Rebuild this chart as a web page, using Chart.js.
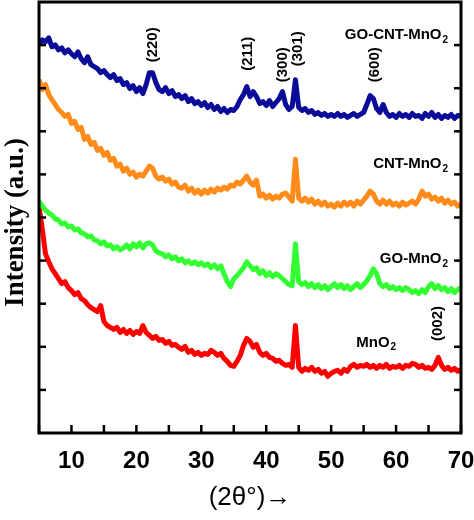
<!DOCTYPE html>
<html><head><meta charset="utf-8">
<script src="https://cdn.jsdelivr.net/npm/chart.js@4"></script>
<style>html,body{margin:0;background:#fff}#w{width:474px;height:520px}</style>
</head><body><div id="w"><canvas id="c"></canvas></div>
<script>
const twoTheta = [];
for (let i = 0; i <= 130; i++) twoTheta.push(5 + i * 0.5);
const goCntMnO2 = [390,395,393,397,388,390,385,387,382,385,381,378,383,376,372,378,370,368,366,362,364,360,357,360,354,356,350,352,346,349,343,347,341,350,362,362,352,345,343,347,341,344,338,340,336,339,333,336,331,333,329,332,327,330,325,328,323,326,322,325,324,328,335,340,348,338,343,338,331,333,329,334,328,332,336,343,330,325,328,355,327,324,326,322,324,320,322,319,321,318,320,318,321,318,320,317,319,321,318,320,322,330,339,336,326,322,330,322,318,320,317,321,318,320,317,321,318,319,316,321,318,322,317,320,316,319,317,320,316,319,318];
const cntMnO2 = [355,345,350,340,335,330,325,322,318,320,311,313,305,307,295,298,290,292,284,286,279,282,274,276,268,270,263,266,260,262,257,260,258,263,268,266,258,255,257,253,255,250,252,247,246,249,243,246,241,244,240,244,241,245,242,246,244,247,245,249,248,252,250,254,258,252,249,254,238,240,236,239,235,238,236,240,241,237,233,275,236,233,236,232,235,230,233,229,232,228,230,227,231,228,232,229,232,228,233,230,234,238,243,240,233,230,234,230,233,229,231,228,232,229,231,233,230,235,243,238,240,235,237,233,236,231,234,230,232,228,230];
const goMnO2 = [233,228,224,221,219,215,214,210,211,207,208,204,205,201,200,197,198,194,193,190,192,188,189,185,187,184,186,189,185,190,187,191,186,190,191,189,183,181,180,177,179,175,177,173,175,171,173,170,172,169,171,168,170,166,169,165,168,160,152,147,155,158,162,166,172,168,164,166,160,163,158,161,157,160,158,155,152,149,148,190,152,149,151,147,150,146,149,145,148,144,147,150,146,149,145,148,144,147,150,146,149,153,158,165,160,150,147,149,145,147,144,146,143,146,144,141,143,140,144,141,147,150,145,148,144,146,142,145,141,144,146];
const mnO2 = [228,205,180,172,165,160,155,150,152,146,143,139,141,135,133,129,126,124,122,128,112,108,106,104,106,101,104,100,103,99,102,100,108,101,98,95,97,93,94,90,92,88,89,86,84,87,81,83,79,81,78,80,79,83,81,78,80,75,72,68,67,72,78,88,95,92,86,89,81,78,80,76,75,72,73,70,68,69,66,108,66,62,65,63,66,62,64,60,62,57,60,62,63,60,64,62,67,69,66,68,67,69,66,68,65,68,66,69,65,67,66,68,65,68,67,70,69,66,68,65,66,64,68,76,68,64,66,63,65,62,64];
const xTickLabels = ['10','20','30','40','50','60','70'];
const peakLabels = ['(220)','(211)','(300)','(301)','(600)','(002)'];
const peakX = [22.5,37.2,42.6,44.8,56.7,66.5];
const peakY = [390,381,370,386,370,110];
const sampleNames = ['GO-CNT-MnO','CNT-MnO','GO-MnO','MnO'];
const sampleX = [67,67,67,59];
const sampleY = [400,270,175,91];

const pts = a => a.map((v,i)=>({x:twoTheta[i],y:v}));
const ds = (d,c)=>({data:pts(d),borderColor:c,borderWidth:5,pointRadius:0,tension:0,borderJoinStyle:'round'});

const deco = {
  id:'deco',
  afterDraw(ch){
    const c=ch.ctx, xs=ch.scales.x, ys=ch.scales.y, a=ch.chartArea;
    c.save();
    c.strokeStyle='#000'; c.lineWidth=3;
    c.strokeRect(a.left,a.top,a.right-a.left,a.bottom-a.top);
    c.lineWidth=2.5;
    for(let v=5;v<=70;v+=5){const px=xs.getPixelForValue(v);c.beginPath();c.moveTo(px,a.bottom);c.lineTo(px,a.bottom-8);c.stroke();}
    for(let k=1;k<10;k++){const py=ys.getPixelForValue(k*43.3);
      c.beginPath();c.moveTo(a.left,py);c.lineTo(a.left+7,py);c.stroke();
      c.beginPath();c.moveTo(a.right,py);c.lineTo(a.right-7,py);c.stroke();}
    c.fillStyle='#000';
    c.font='bold 15px Arial';c.textAlign='center';c.textBaseline='middle';
    peakLabels.forEach((t,i)=>{c.save();c.translate(xs.getPixelForValue(peakX[i]),ys.getPixelForValue(peakY[i]));c.rotate(-Math.PI/2);c.fillText(t,0,0);c.restore();});
    sampleNames.forEach((t,i)=>{
      const px=xs.getPixelForValue(sampleX[i]), py=ys.getPixelForValue(sampleY[i]);
      c.font='bold 15px Arial';c.textAlign='right';c.fillText(t,px,py);
      c.font='bold 10px Arial';c.textAlign='left';c.fillText('2',px+1,py+5);
    });
    c.font='bold 27px "Liberation Serif"';c.textAlign='center';
    c.save();c.translate(16,a.top+(a.bottom-a.top)/2+5);c.rotate(-Math.PI/2);c.fillText('Intensity (a.u.)',0,0);c.restore();
    c.font='26px Arial';c.fillText('(2θ°)→',(a.left+a.right)/2,498);
    c.restore();
  }
};

new Chart(document.getElementById('c'),{
  type:'line',
  data:{datasets:[ds(goCntMnO2,'#0b0b9a'),ds(cntMnO2,'#ff8c1a'),ds(goMnO2,'#33ff33'),ds(mnO2,'#ff0000')]},
  options:{responsive:true,maintainAspectRatio:false,animation:false,
    layout:{padding:{top:2,right:0,left:0,bottom:0}},
    plugins:{legend:{display:false},tooltip:{enabled:false}},
    scales:{
      x:{type:'linear',min:5,max:70,grid:{display:false},border:{display:false},
        afterFit(s){s.height=87;s.paddingRight=13;},
        ticks:{stepSize:5,autoSkip:false,maxRotation:0,minRotation:0,color:'#000',font:{size:24,weight:'bold',family:'Arial'},padding:6,
          callback:v=>xTickLabels.includes(String(v))?String(v):''}},
      y:{min:0,max:433,grid:{display:false},border:{display:false},ticks:{display:false},
        afterFit(s){s.width=39;}}
    }},
  plugins:[deco]
});
</script></body></html>
